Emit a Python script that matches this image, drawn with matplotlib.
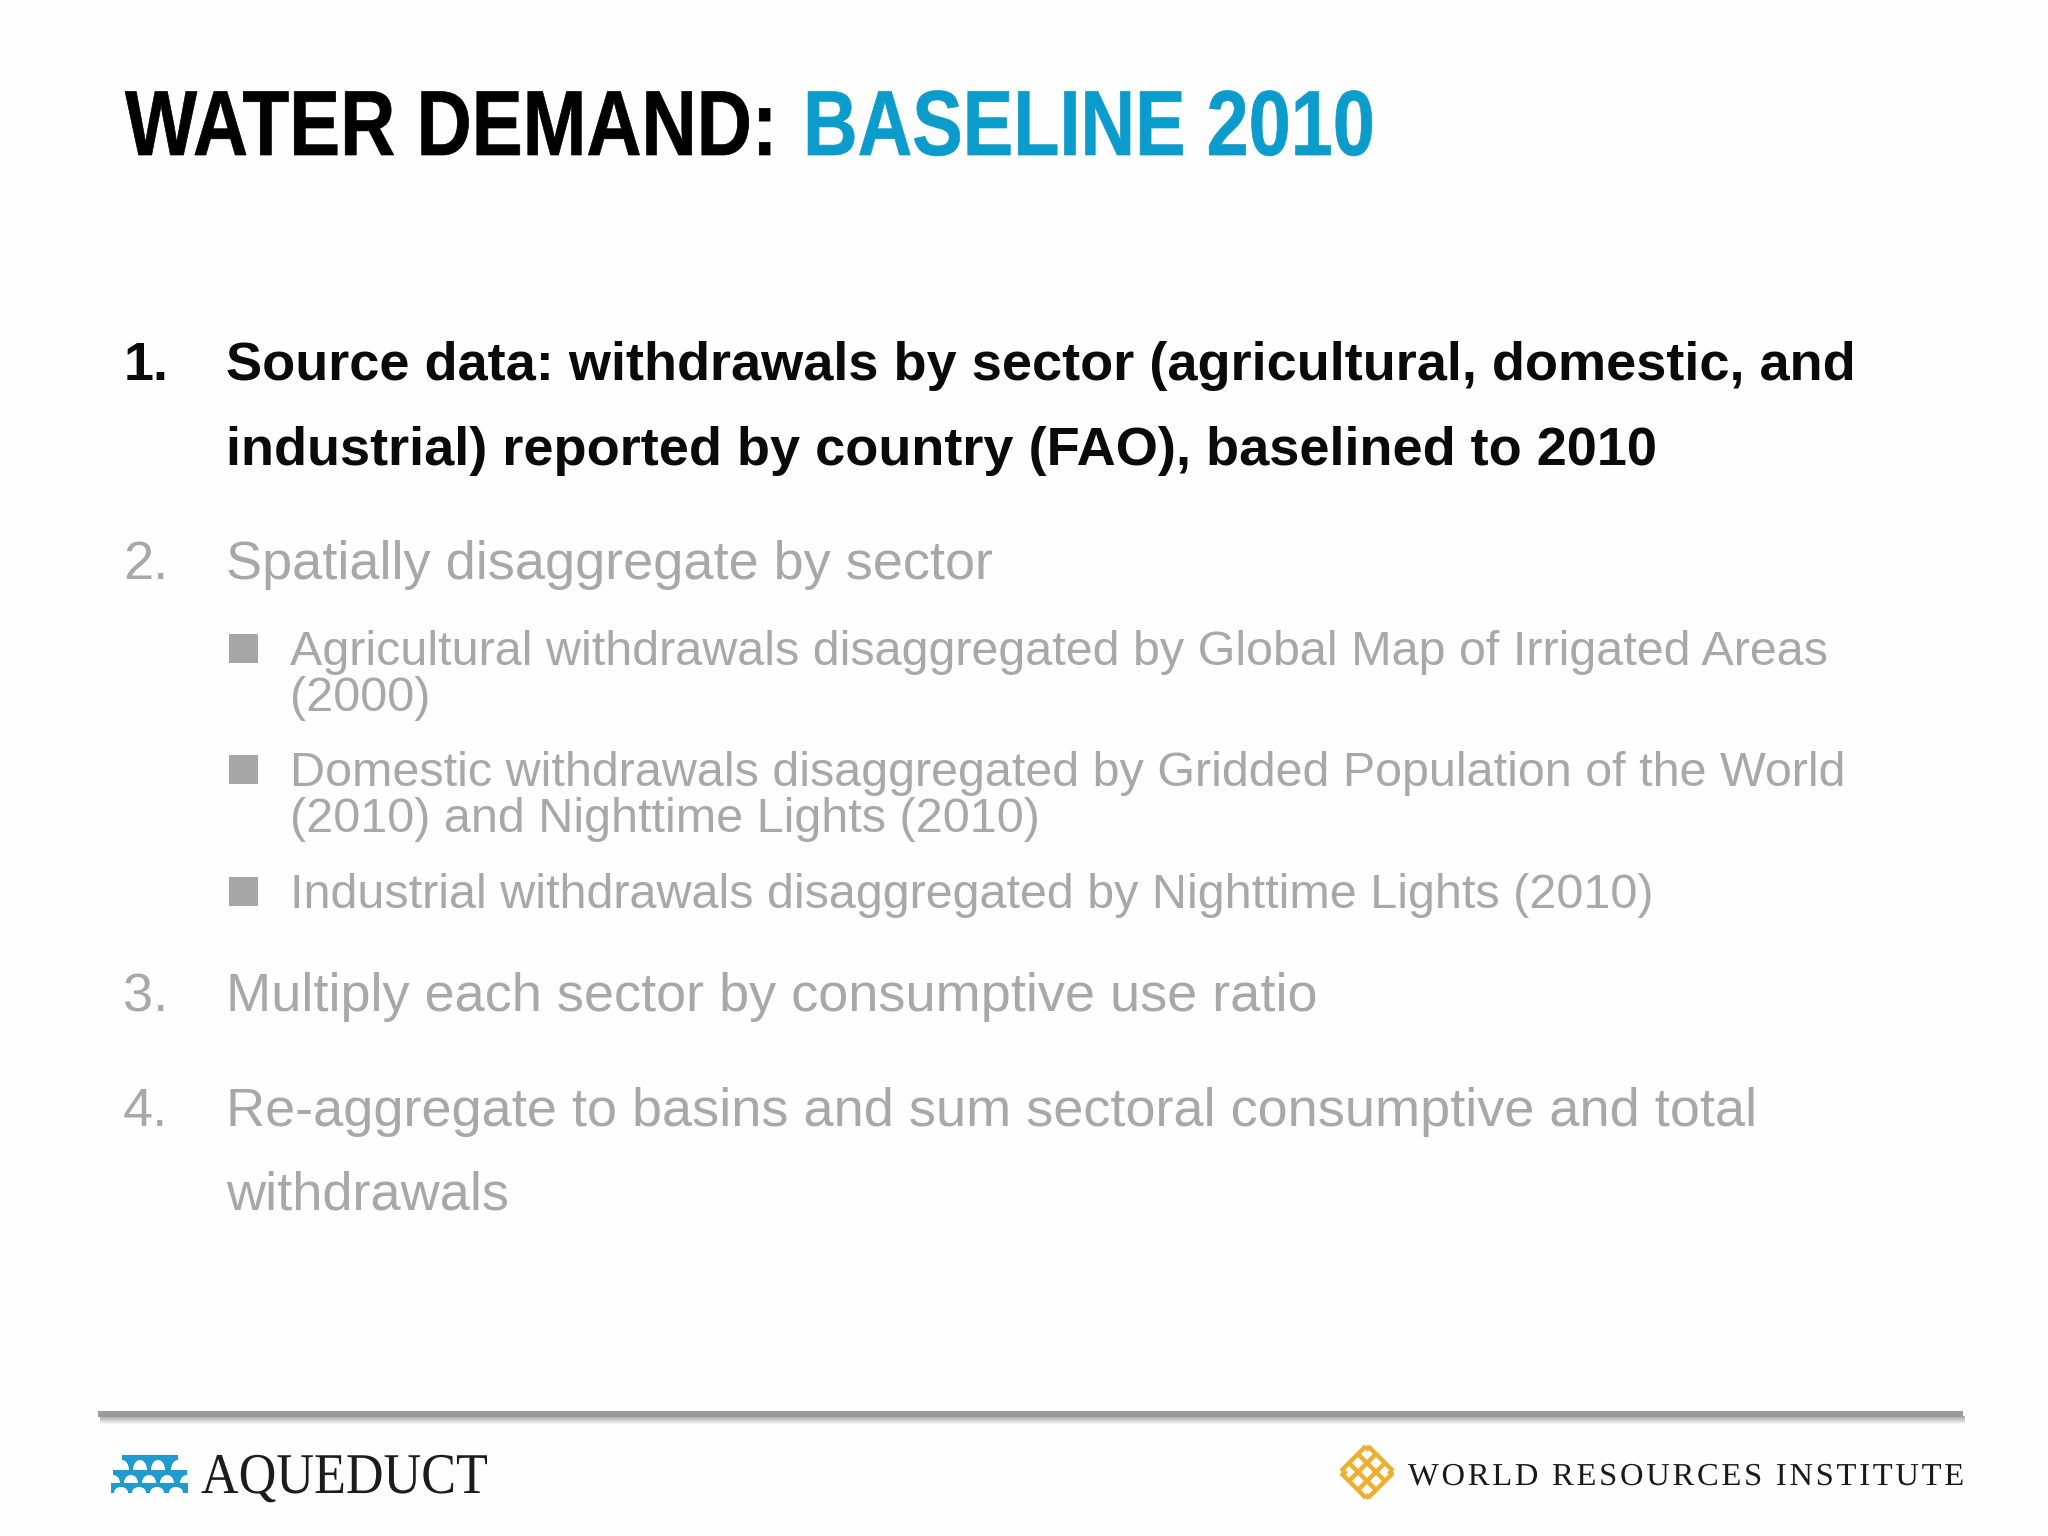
import matplotlib
matplotlib.use('Agg')
import matplotlib.pyplot as plt
from matplotlib.patches import Ellipse, Rectangle
from matplotlib.patheffects import AbstractPathEffect
from matplotlib.transforms import Affine2D

title_dark = 'WATER DEMAND:'
title_blue = 'BASELINE 2010'
step_numbers = ['1.', '2.', '3.', '4.']
step_one = ['Source data: withdrawals by sector (agricultural, domestic, and',
            'industrial) reported by country (FAO), baselined to 2010']
step_two = 'Spatially disaggregate by sector'
sub_items = [['Agricultural withdrawals disaggregated by Global Map of Irrigated Areas', '(2000)'],
             ['Domestic withdrawals disaggregated by Gridded Population of the World',
              '(2010) and Nighttime Lights (2010)'],
             ['Industrial withdrawals disaggregated by Nighttime Lights (2010)']]
step_three = 'Multiply each sector by consumptive use ratio'
step_four = ['Re-aggregate to basins and sum sectoral consumptive and total', 'withdrawals']
logo_left = 'AQUEDUCT'
logo_right = 'WORLD RESOURCES INSTITUTE'

GREY = '#a8a8a8'
BLUE = '#0b9ccb'
AQ_BLUE = '#1f9bcf'
GOLD = '#ebb02f'
PAPER = '#fefefe'
BODY = 39.0
SUB = 34.9


class TallerGlyphs(AbstractPathEffect):
    # no condensed face is installed: set the text small enough to fit, then pull it up from the baseline
    def __init__(self, y0, sy, stroke=0):
        super().__init__()
        self.y0 = y0
        self.sy = sy
        self.stroke = stroke

    def draw_path(self, renderer, gc, tpath, affine, rgbFace=None):
        pull = Affine2D().translate(0, -self.y0).scale(1, self.sy).translate(0, self.y0)
        gc0 = renderer.new_gc()
        gc0.copy_properties(gc)
        if self.stroke:
            gc0.set_linewidth(self.stroke)
            gc0.set_foreground(rgbFace)
        renderer.draw_path(gc0, tpath, affine + pull, rgbFace)
        gc0.restore()


def put(ax, x, y, s, size, color=GREY, weight='normal', family='Liberation Sans'):
    return ax.text(x, y, s, fontsize=size, color=color, fontweight=weight,
                   family=family, ha='left', va='baseline')


def put_fitted(fig, ax, x, y, s, width, size, color, weight, family, stroke=0):
    t = put(ax, x, y, s, size, color, weight, family)
    natural = t.get_window_extent(fig.canvas.get_renderer()).width
    ratio = width / natural
    t.set_fontsize(size * ratio)
    t.set_path_effects([TallerGlyphs(1536 - y, 1 / ratio, stroke)])
    return t


def draw_rule(ax):
    # soft shadow under the rule
    for i in range(8):
        ax.add_patch(Rectangle((100, 1416 + i), 1865, 1, fc='#707070', ec='none',
                               alpha=0.6 * (1 - i / 8)))
    ax.add_patch(Rectangle((98, 1411), 1865, 5.5, fc='#9b9b9b', ec='none'))


def draw_aqueduct_icon(ax):
    # top tier first: each tier hides the lower half of the arches above it
    tiers = [(122, 1454.5, 56, 5.5, 10, [122, 140, 158, 178]),
             (113, 1470, 74, 5, 8, [113, 131, 149, 167, 187]),
             (111, 1483, 77, 4, 5.5, [121, 139, 157, 176])]
    for x, y, w, deck, rise, domes in tiers:
        ax.add_patch(Rectangle((x, y), w, deck + rise, fc=AQ_BLUE, ec='none'))
        for dx in domes:
            ax.add_patch(Ellipse((dx, y + deck + rise), 14, 2 * rise, fc=PAPER, ec='none'))


def draw_wri_icon(ax):
    cx, cy = 1367, 1472
    for off in [-13.5, -4.5, 4.5, 13.5]:
        ax.plot([cx - 12.5 + off, cx + 12.5 + off], [cy - 12.5 - off, cy + 12.5 - off],
                color=GOLD, lw=3.2, solid_capstyle='butt')
        ax.plot([cx - 12.5 + off, cx + 12.5 + off], [cy + 12.5 + off, cy - 12.5 + off],
                color=GOLD, lw=3.2, solid_capstyle='butt')
    for dx, dy in [(0, -24), (0, 24), (-23, 0), (23, 0)]:
        ax.plot(cx + dx, cy + dy, marker='D', ms=3.5, color=GOLD, mec='none')


def main():
    fig = plt.figure(figsize=(20.48, 15.36), dpi=100, facecolor=PAPER)
    ax = fig.add_axes([0, 0, 1, 1])
    ax.set_xlim(0, 2048)
    ax.set_ylim(1536, 0)
    ax.axis('off')

    put_fitted(fig, ax, 125, 155, title_dark, 652, 66.5, '#000000', 'bold', 'Liberation Sans', 0.5)
    put_fitted(fig, ax, 803, 155, title_blue, 572, 66.5, BLUE, 'bold', 'Liberation Sans', 0.5)

    put(ax, 124, 380, step_numbers[0], BODY, '#0a0a0a', 'bold')
    put(ax, 226, 380, step_one[0], BODY, '#0a0a0a', 'bold')
    put(ax, 226, 465, step_one[1], BODY, '#0a0a0a', 'bold')

    put(ax, 123, 579, step_numbers[1], BODY)
    put(ax, 226, 579, step_two, BODY)

    sub_bases = [[665, 711], [786, 832], [908]]
    for lines, bases in zip(sub_items, sub_bases):
        ax.add_patch(Rectangle((229, bases[0] - 31), 29, 29, fc='#a6a6a6', ec='none'))
        for line, base in zip(lines, bases):
            put(ax, 290, base, line, SUB)

    put(ax, 123, 1011, step_numbers[2], BODY)
    put(ax, 226, 1011, step_three, BODY)
    put(ax, 123, 1126, step_numbers[3], BODY)
    put(ax, 226, 1126, step_four[0], BODY)
    put(ax, 226, 1209, step_four[1], BODY)

    draw_rule(ax)
    draw_aqueduct_icon(ax)
    put_fitted(fig, ax, 201, 1493, logo_left, 287, 41.5, '#1c1c1c', 'normal', 'Liberation Serif')
    draw_wri_icon(ax)
    put_fitted(fig, ax, 1408, 1485, '\u200a'.join(logo_right), 556, 23, '#1a1a1a', 'normal',
               ['Liberation Serif', 'DejaVu Serif'])

    fig.savefig('out.png', dpi=100, facecolor=fig.get_facecolor())


main()
